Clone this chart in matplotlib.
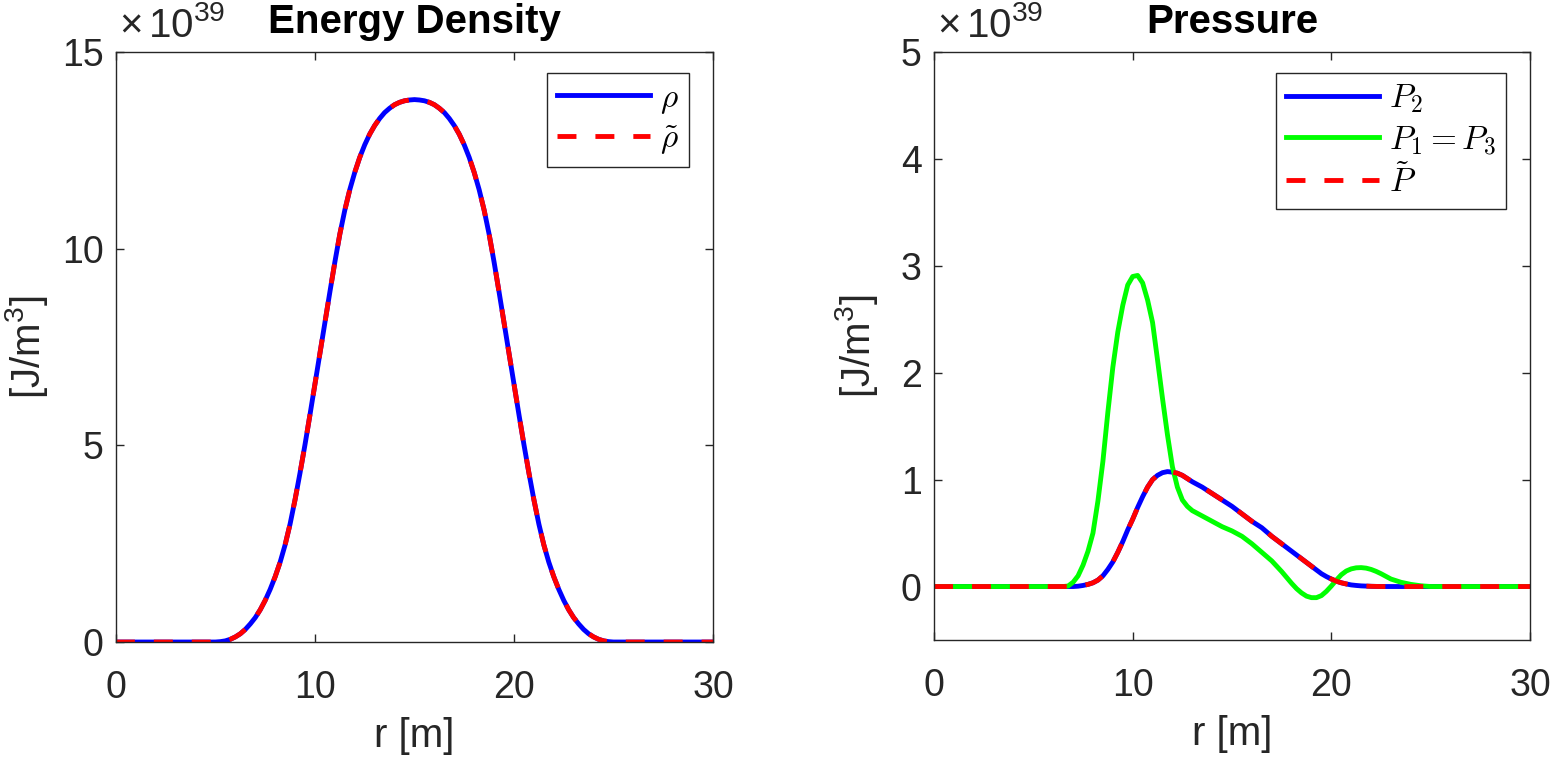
import matplotlib
matplotlib.use('Agg')
import matplotlib.pyplot as plt
from matplotlib.font_manager import FontProperties

plt.rcParams['font.family'] = ['Liberation Sans', 'DejaVu Sans']
plt.rcParams['mathtext.fontset'] = 'custom'
plt.rcParams['mathtext.rm'] = 'Liberation Sans'
plt.rcParams['mathtext.it'] = 'Liberation Sans:italic'

# energy density (units of 1e39 J/m^3)
r_rho = [0, 2, 4, 5.0, 5.25, 5.5, 5.75, 6.0, 6.25, 6.5, 6.75, 7.0, 7.25,
         7.5, 7.75, 8.0, 8.25, 8.5, 8.75, 9.0, 9.25, 9.5, 9.75, 10.0, 10.25,
         10.5, 10.75, 11.0, 11.25, 11.5, 11.75, 12.0, 12.25, 12.5, 12.75,
         13.0, 13.25, 13.5, 13.75, 14.0, 14.25, 14.5, 14.75, 15.0,
         15.25, 15.5, 15.75, 16.0, 16.25, 16.5, 16.75, 17.0, 17.25, 17.5,
         17.75, 18.0, 18.25, 18.5, 18.75, 19.0, 19.25, 19.5, 19.75, 20.0,
         20.25, 20.5, 20.75, 21.0, 21.25, 21.5, 21.75, 22.0, 22.25, 22.5,
         22.75, 23.0, 23.25, 23.5, 23.75, 24.0, 24.25, 24.5, 24.75, 25.0,
         26, 28, 30]
rho = [0, 0, 0, 0, 0.01, 0.03, 0.07, 0.13, 0.21, 0.32, 0.46, 0.62, 0.82,
       1.06, 1.34, 1.66, 2.03, 2.47, 3.0, 3.62, 4.3, 5.02, 5.78, 6.56, 7.34,
       8.12, 8.9, 9.66, 10.37, 10.98, 11.5, 11.94, 12.32, 12.64, 12.91,
       13.13, 13.31, 13.46, 13.57, 13.66, 13.72, 13.76, 13.78, 13.79,
       13.78, 13.76, 13.72, 13.66, 13.57, 13.46, 13.31, 13.13, 12.91, 12.64,
       12.32, 11.94, 11.5, 10.98, 10.37, 9.66, 8.9, 8.12, 7.34, 6.56,
       5.78, 5.02, 4.3, 3.62, 3.0, 2.47, 2.03, 1.66, 1.34, 1.06,
       0.82, 0.62, 0.46, 0.32, 0.21, 0.13, 0.07, 0.03, 0.01, 0,
       0, 0, 0]
rho_tilde = rho

# pressures (units of 1e39 J/m^3)
r_p = [0, 2, 4, 6, 6.5, 6.75, 7.0, 7.25, 7.5, 7.75, 8.0, 8.25, 8.5, 8.75,
       9.0, 9.25, 9.5, 9.75, 10.0, 10.25, 10.5, 10.75, 11.0, 11.25, 11.5,
       11.75, 12.0, 12.25, 12.5, 12.75, 13.0, 13.5, 14.0, 14.5, 15.0, 15.5,
       16.0, 16.5, 17.0, 17.25, 17.5, 17.75, 18.0, 18.25, 18.5, 18.75,
       19.0, 19.25, 19.5, 19.75, 20.0, 20.25, 20.5, 20.75, 21.0, 21.25,
       21.5, 21.75, 22.0, 22.25, 22.5, 22.75, 23.0, 23.5, 24.0, 24.5, 25.0,
       26, 28, 30]
p2 = [0, 0, 0, 0, 0, 0, 0, 0.003, 0.01, 0.02, 0.035, 0.06, 0.1, 0.16,
      0.23, 0.32, 0.42, 0.53, 0.63, 0.74, 0.84, 0.93, 1.0, 1.04, 1.065,
      1.075, 1.07, 1.06, 1.04, 1.01, 0.98, 0.93, 0.87, 0.81, 0.75, 0.68,
      0.61, 0.55, 0.47, 0.435, 0.40, 0.365, 0.33, 0.295, 0.26, 0.225,
      0.19, 0.155, 0.12, 0.093, 0.07, 0.05, 0.035, 0.024, 0.015, 0.01,
      0.006, 0.004, 0.002, 0.001, 0, 0, 0, 0, 0, 0, 0,
      0, 0, 0]
p13 = [0, 0, 0, 0, 0, 0.005, 0.04, 0.1, 0.2, 0.33, 0.5, 0.8, 1.17, 1.63,
       2.05, 2.38, 2.63, 2.82, 2.9, 2.91, 2.84, 2.68, 2.47, 2.12, 1.76,
       1.42, 1.12, 0.93, 0.81, 0.75, 0.71, 0.66, 0.61, 0.56, 0.52, 0.47,
       0.40, 0.32, 0.24, 0.19, 0.14, 0.085, 0.03, -0.02, -0.06, -0.09,
       -0.104, -0.104, -0.085, -0.045, 0.005, 0.06, 0.11, 0.145, 0.165, 0.175,
       0.177, 0.172, 0.16, 0.142, 0.12, 0.095, 0.07, 0.04, 0.02, 0.007, 0,
       0, 0, 0]
p_tilde = p2

BLUE = (0, 0, 1)
GREEN = (0, 1, 0)
RED = (1, 0, 0)
AX_COL = '0.15'
LW = 3.5
DASH = (3.9, 3.9)

fig = plt.figure(figsize=(15.5, 7.58), dpi=100)
ax1 = fig.add_axes([0.0748, 0.153, 0.3852, 0.7784])
ax2 = fig.add_axes([0.6026, 0.1557, 0.3845, 0.7757])

leg_font = FontProperties(size=24, math_fontfamily='cm')


def style(ax):
    for s in ax.spines.values():
        s.set_color(AX_COL)
        s.set_linewidth(1.0)
    ax.tick_params(direction='in', length=6, width=1, colors=AX_COL,
                   labelsize=27, top=True, right=True)
    ax.tick_params(axis='x', pad=20)
    ax.tick_params(axis='y', pad=9)


# left panel
ax1.plot(r_rho, rho, color=BLUE, lw=LW, label=r'$\rho$')
ax1.plot(r_rho, rho_tilde, color=RED, lw=LW, dashes=DASH, dash_capstyle='butt',
         label=r'$\tilde{\rho}$')
ax1.set_xlim(0, 30)
ax1.set_ylim(0, 15)
ax1.set_xticks([0, 10, 20, 30])
ax1.set_yticks([0, 5, 10, 15])
style(ax1)
ax1.set_xlabel('r [m]', fontsize=29, color=AX_COL, labelpad=8)
ax1.set_ylabel('[J/m$^3$]', fontsize=29, color=AX_COL)
ax1.yaxis.set_label_coords(-0.1106, 0.5)
ax1.set_title('Energy Density', fontsize=29, fontweight='bold', pad=14)
ax1.text(0.005, 1.012, r'$\times\,10^{39}$', transform=ax1.transAxes, fontsize=29,
         color=AX_COL, ha='left', va='bottom')
ax1.legend(loc='upper right', bbox_to_anchor=(0.96, 0.965), prop=leg_font,
           fancybox=False, edgecolor=AX_COL, framealpha=1, handlelength=2.8,
           handletextpad=0.3, borderpad=0.3, labelspacing=0.25, borderaxespad=0)

# right panel
ax2.plot(r_p, p2, color=BLUE, lw=LW, label=r'$P_2$')
ax2.plot(r_p, p13, color=GREEN, lw=LW, label=r'$P_1=P_3$')
ax2.plot(r_p, p_tilde, color=RED, lw=LW, dashes=DASH, dash_capstyle='butt',
         label=r'$\tilde{P}$')
ax2.set_xlim(0, 30)
ax2.set_ylim(-0.5, 5)
ax2.set_xticks([0, 10, 20, 30])
ax2.set_yticks([0, 1, 2, 3, 4, 5])
style(ax2)
ax2.set_xlabel('r [m]', fontsize=29, color=AX_COL, labelpad=8)
ax2.set_ylabel('[J/m$^3$]', fontsize=29, color=AX_COL)
ax2.yaxis.set_label_coords(-0.0906, 0.5)
ax2.set_title('Pressure', fontsize=29, fontweight='bold', pad=14)
ax2.text(0.005, 1.012, r'$\times\,10^{39}$', transform=ax2.transAxes, fontsize=29,
         color=AX_COL, ha='left', va='bottom')
ax2.legend(loc='upper right', bbox_to_anchor=(0.96, 0.965), prop=leg_font,
           fancybox=False, edgecolor=AX_COL, framealpha=1, handlelength=2.8,
           handletextpad=0.3, borderpad=0.3, labelspacing=0.25, borderaxespad=0)

fig.savefig('out.png', dpi=100)
